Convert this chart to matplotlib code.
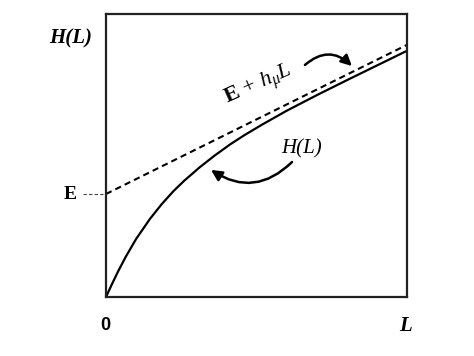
import numpy as np
import matplotlib
matplotlib.use("Agg")
import matplotlib.pyplot as plt

plt.rcParams['mathtext.fontset'] = 'custom'
plt.rcParams['mathtext.rm'] = 'Liberation Serif'
plt.rcParams['mathtext.it'] = 'Liberation Serif:italic'
plt.rcParams['mathtext.bf'] = 'Liberation Serif:bold'

# H(L) curve (L scaled 0..1)
curve_L = [0.0, 0.02, 0.04, 0.065, 0.1, 0.146, 0.185, 0.224, 0.26, 0.312,
           0.36, 0.412, 0.46, 0.52, 0.6, 0.7, 0.8, 0.9, 1.0]
curve_H = [0.0, 0.046, 0.090, 0.141, 0.205, 0.276, 0.328, 0.374, 0.411, 0.459,
           0.499, 0.539, 0.572, 0.610, 0.658, 0.713, 0.766, 0.818, 0.870]

# asymptote E + h*L
E = 0.364
line_L = [0.0, 1.0]
line_H = [0.364, 0.891]

fig = plt.figure(figsize=(4.74, 3.56), dpi=100)
ax = fig.add_axes([106 / 474, 59 / 356, 301 / 474, 283 / 356])

ax.plot(line_L, line_H, color='black', lw=1.5, linestyle=(0, (3, 2)))
ax.plot(curve_L, curve_H, color='black', lw=1.6)
# little dashed stub to the E label
ax.plot([-0.075, 0.0], [E, E], color='#444444', lw=0.8, linestyle=(0, (3, 2)),
        clip_on=False)

ax.set_xlim(0, 1)
ax.set_ylim(0, 1)
ax.set_xticks([])
ax.set_yticks([])
for s in ax.spines.values():
    s.set_linewidth(1.6)
    s.set_color('#222222')

serif = 'Liberation Serif'
fig.text(71 / 474, 1 - 38 / 356, 'H(L)', family=serif, weight='bold', style='italic',
         fontsize=15, ha='center', va='center')
fig.text(70 / 474, 1 - 195 / 356, 'E', family=serif, weight='bold',
         fontsize=14, ha='center', va='center')
fig.text(105 / 474, 1 - 326 / 356, '0', family='Liberation Sans', weight='bold',
         fontsize=13, ha='center', va='center')
fig.text(406 / 474, 1 - 326 / 356, 'L', family=serif, weight='bold', style='italic',
         fontsize=15, ha='center', va='center')

ax.text(0.508, 0.746, r'$\mathbf{E}\,+\,h_{\mu}L$', fontsize=16, rotation=24,
        ha='center', va='center', rotation_mode='anchor')
ax.text(0.65, 0.525, 'H(L)', family=serif, style='italic', fontsize=15,
        ha='center', va='center')

ax.annotate('', xy=(0.817, 0.816), xytext=(0.661, 0.82),
            arrowprops=dict(arrowstyle='-|>', color='black', lw=1.8,
                            mutation_scale=16, connectionstyle='arc3,rad=-0.45',
                            shrinkA=0, shrinkB=0))
ax.annotate('', xy=(0.349, 0.449), xytext=(0.618, 0.477),
            arrowprops=dict(arrowstyle='-|>', color='black', lw=1.8,
                            mutation_scale=16, connectionstyle='arc3,rad=-0.4',
                            shrinkA=0, shrinkB=0))

fig.savefig('out.png', dpi=100)
